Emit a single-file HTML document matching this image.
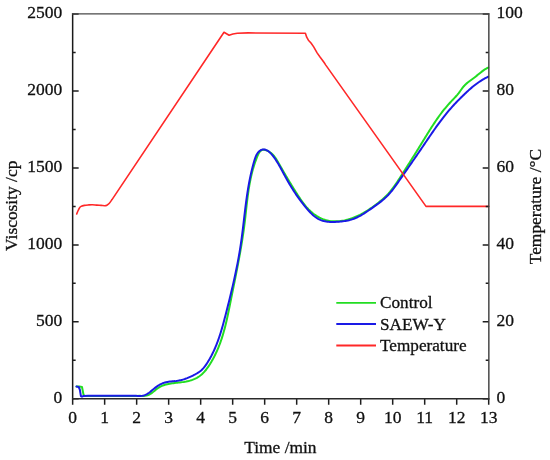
<!DOCTYPE html>
<html><head><meta charset="utf-8"><style>
html,body{margin:0;padding:0;background:#fff;width:550px;height:460px;overflow:hidden}
svg{display:block}
.t{font-family:"Liberation Serif",serif;font-size:17.5px;fill:#111;stroke:#111;stroke-width:0.3px}
.a{font-family:"Liberation Serif",serif;font-size:17.4px;fill:#111;stroke:#111;stroke-width:0.3px}
.l{font-family:"Liberation Serif",serif;font-size:17.2px;fill:#111;stroke:#111;stroke-width:0.3px}
</style></head><body>
<svg width="550" height="460" viewBox="0 0 550 460">
<rect width="550" height="460" fill="#fff"/>
<path d="M76.50 386.60 L79.50 386.60 L82.00 387.00 L83.50 394.60 L84.50 396.00 L88.00 395.90 L92.00 395.90 L96.00 395.90 L100.00 395.90 L104.00 395.90 L108.00 395.90 L112.00 395.90 L116.00 395.90 L120.00 395.90 L124.00 395.90 L128.00 395.90 L132.00 395.90 L136.00 395.90 L139.98 395.86 L141.30 395.96 L142.60 395.99 L143.87 395.95 L145.12 395.82 L146.34 395.60 L147.53 395.27 L148.68 394.82 L149.80 394.26 L150.88 393.60 L151.94 392.86 L152.98 392.07 L154.02 391.24 L155.04 390.40 L156.07 389.56 L157.11 388.76 L158.16 388.00 L159.23 387.31 L160.33 386.69 L161.44 386.13 L162.58 385.64 L163.73 385.20 L164.90 384.82 L166.09 384.48 L167.29 384.18 L168.51 383.92 L169.73 383.69 L170.97 383.49 L172.22 383.31 L173.47 383.15 L174.74 383.01 L176.01 382.87 L177.28 382.73 L178.56 382.60 L179.84 382.46 L181.12 382.30 L182.40 382.13 L183.67 381.95 L184.95 381.73 L186.22 381.50 L187.47 381.23 L188.72 380.94 L189.96 380.61 L191.17 380.24 L192.37 379.84 L193.55 379.40 L194.70 378.91 L195.83 378.38 L196.93 377.81 L198.00 377.18 L199.04 376.50 L200.04 375.77 L201.01 374.99 L201.95 374.17 L202.87 373.30 L203.75 372.40 L204.61 371.47 L205.44 370.50 L206.25 369.50 L207.03 368.48 L207.79 367.44 L208.53 366.37 L209.25 365.29 L209.95 364.20 L210.63 363.09 L211.29 361.98 L211.94 360.86 L212.57 359.74 L213.19 358.61 L213.79 357.48 L214.38 356.35 L214.95 355.21 L215.51 354.06 L216.05 352.91 L216.58 351.76 L217.10 350.60 L217.61 349.44 L218.10 348.28 L218.58 347.11 L219.05 345.93 L219.50 344.76 L219.95 343.58 L220.38 342.39 L220.80 341.20 L221.21 340.01 L221.61 338.81 L222.00 337.61 L222.38 336.41 L222.75 335.20 L223.12 333.99 L223.47 332.78 L223.82 331.56 L224.15 330.35 L224.48 329.13 L224.81 327.90 L225.12 326.67 L225.43 325.45 L225.73 324.22 L226.03 322.98 L226.32 321.75 L226.61 320.51 L226.89 319.27 L227.17 318.03 L227.44 316.79 L227.71 315.55 L227.97 314.30 L228.23 313.06 L228.49 311.81 L228.75 310.57 L229.00 309.32 L229.26 308.07 L229.51 306.82 L229.76 305.57 L230.01 304.33 L230.26 303.08 L230.51 301.83 L230.76 300.58 L231.01 299.33 L231.26 298.08 L231.51 296.84 L231.76 295.59 L232.01 294.34 L232.26 293.09 L232.51 291.85 L232.77 290.60 L233.02 289.35 L233.27 288.11 L233.52 286.86 L233.77 285.61 L234.03 284.37 L234.28 283.12 L234.53 281.87 L234.78 280.63 L235.03 279.38 L235.28 278.14 L235.52 276.89 L235.77 275.64 L236.02 274.40 L236.26 273.15 L236.51 271.90 L236.75 270.66 L237.00 269.41 L237.24 268.17 L237.48 266.92 L237.72 265.67 L237.96 264.42 L238.19 263.18 L238.43 261.93 L238.66 260.68 L238.89 259.43 L239.12 258.19 L239.35 256.94 L239.58 255.69 L239.80 254.44 L240.03 253.19 L240.25 251.94 L240.47 250.69 L240.68 249.44 L240.90 248.19 L241.11 246.94 L241.32 245.69 L241.53 244.44 L241.73 243.18 L241.94 241.93 L242.14 240.68 L242.33 239.42 L242.53 238.17 L242.72 236.91 L242.91 235.66 L243.10 234.40 L243.28 233.15 L243.46 231.89 L243.64 230.63 L243.81 229.37 L243.98 228.11 L244.15 226.86 L244.31 225.59 L244.47 224.33 L244.63 223.07 L244.78 221.81 L244.93 220.55 L245.08 219.28 L245.22 218.02 L245.37 216.76 L245.51 215.49 L245.65 214.23 L245.79 212.96 L245.93 211.70 L246.06 210.43 L246.20 209.16 L246.34 207.90 L246.48 206.63 L246.62 205.37 L246.77 204.10 L246.91 202.84 L247.06 201.58 L247.21 200.31 L247.37 199.05 L247.52 197.79 L247.68 196.53 L247.85 195.26 L248.02 194.00 L248.19 192.75 L248.38 191.49 L248.56 190.23 L248.75 188.97 L248.95 187.72 L249.16 186.47 L249.37 185.21 L249.59 183.96 L249.82 182.71 L250.06 181.46 L250.30 180.22 L250.56 178.97 L250.82 177.73 L251.10 176.49 L251.38 175.25 L251.68 174.01 L251.98 172.78 L252.30 171.54 L252.63 170.31 L252.97 169.08 L253.32 167.86 L253.69 166.63 L254.07 165.41 L254.46 164.19 L254.87 162.97 L255.29 161.76 L255.73 160.55 L256.18 159.34 L256.65 158.13 L257.13 156.93 L257.63 155.73 L258.15 154.54 L258.70 153.40 L259.32 152.35 L260.02 151.43 L260.81 150.68 L261.72 150.14 L262.77 149.85 L263.94 149.81 L265.18 149.99 L266.43 150.35 L267.66 150.86 L268.85 151.49 L269.98 152.23 L271.07 153.07 L272.10 153.98 L273.06 154.96 L273.96 155.97 L274.79 157.01 L275.55 158.07 L276.25 159.13 L276.90 160.20 L277.53 161.28 L278.16 162.36 L278.78 163.44 L279.40 164.52 L280.02 165.61 L280.65 166.69 L281.27 167.78 L281.90 168.87 L282.53 169.95 L283.16 171.04 L283.79 172.13 L284.43 173.22 L285.06 174.31 L285.70 175.41 L286.34 176.50 L286.99 177.59 L287.63 178.68 L288.28 179.77 L288.93 180.86 L289.58 181.95 L290.24 183.04 L290.90 184.13 L291.56 185.22 L292.23 186.31 L292.90 187.39 L293.57 188.48 L294.24 189.56 L294.92 190.64 L295.61 191.72 L296.29 192.80 L296.98 193.88 L297.68 194.95 L298.38 196.02 L299.08 197.09 L299.79 198.16 L300.51 199.22 L301.24 200.27 L301.97 201.31 L302.72 202.34 L303.48 203.37 L304.26 204.38 L305.05 205.37 L305.86 206.35 L306.69 207.31 L307.54 208.25 L308.41 209.18 L309.30 210.08 L310.22 210.95 L311.16 211.81 L312.13 212.63 L313.12 213.43 L314.13 214.20 L315.16 214.94 L316.22 215.65 L317.29 216.32 L318.39 216.95 L319.50 217.55 L320.62 218.11 L321.77 218.63 L322.93 219.10 L324.10 219.53 L325.29 219.92 L326.49 220.25 L327.71 220.54 L328.93 220.78 L330.16 220.98 L331.41 221.13 L332.66 221.23 L333.91 221.29 L335.17 221.31 L336.44 221.29 L337.71 221.23 L338.98 221.13 L340.25 221.00 L341.52 220.83 L342.79 220.63 L344.06 220.39 L345.33 220.12 L346.59 219.82 L347.85 219.49 L349.10 219.13 L350.34 218.75 L351.57 218.34 L352.80 217.90 L354.01 217.44 L355.21 216.96 L356.40 216.46 L357.58 215.94 L358.74 215.40 L359.88 214.85 L361.01 214.27 L362.12 213.68 L363.22 213.08 L364.31 212.46 L365.38 211.83 L366.45 211.18 L367.50 210.51 L368.55 209.84 L369.59 209.15 L370.62 208.45 L371.64 207.74 L372.66 207.01 L373.68 206.28 L374.70 205.53 L375.71 204.77 L376.72 204.01 L377.73 203.23 L378.74 202.45 L379.74 201.65 L380.74 200.84 L381.72 200.01 L382.70 199.18 L383.66 198.33 L384.60 197.46 L385.53 196.58 L386.44 195.68 L387.33 194.77 L388.20 193.84 L389.05 192.89 L389.88 191.93 L390.69 190.95 L391.48 189.97 L392.26 188.97 L393.02 187.95 L393.78 186.93 L394.52 185.90 L395.24 184.86 L395.96 183.82 L396.67 182.76 L397.38 181.71 L398.08 180.64 L398.77 179.58 L399.46 178.51 L400.14 177.44 L400.83 176.37 L401.51 175.29 L402.19 174.22 L402.88 173.15 L403.56 172.08 L404.24 171.01 L404.93 169.94 L405.61 168.87 L406.29 167.80 L406.97 166.73 L407.65 165.66 L408.33 164.58 L409.01 163.51 L409.69 162.44 L410.37 161.37 L411.05 160.30 L411.72 159.22 L412.40 158.15 L413.08 157.08 L413.75 156.00 L414.43 154.93 L415.10 153.85 L415.77 152.77 L416.45 151.70 L417.12 150.62 L417.79 149.54 L418.46 148.46 L419.13 147.38 L419.80 146.30 L420.46 145.22 L421.13 144.13 L421.80 143.05 L422.46 141.97 L423.12 140.88 L423.79 139.79 L424.45 138.71 L425.12 137.62 L425.78 136.54 L426.45 135.45 L427.12 134.37 L427.79 133.28 L428.46 132.20 L429.14 131.12 L429.81 130.04 L430.49 128.97 L431.17 127.89 L431.86 126.82 L432.55 125.75 L433.25 124.69 L433.94 123.63 L434.65 122.57 L435.36 121.51 L436.07 120.46 L436.79 119.41 L437.51 118.37 L438.25 117.34 L438.98 116.30 L439.73 115.28 L440.48 114.26 L441.24 113.24 L442.01 112.23 L442.78 111.23 L443.56 110.23 L444.36 109.24 L445.16 108.26 L445.97 107.28 L446.79 106.31 L447.62 105.35 L448.46 104.40 L449.31 103.46 L450.17 102.52 L451.04 101.59 L451.91 100.67 L452.79 99.75 L453.67 98.82 L454.54 97.89 L455.40 96.96 L456.25 96.01 L457.09 95.05 L457.90 94.08 L458.70 93.08 L459.46 92.06 L460.22 91.03 L460.96 90.00 L461.71 88.97 L462.47 87.96 L463.25 86.96 L464.06 86.00 L464.91 85.08 L465.81 84.20 L466.74 83.37 L467.72 82.56 L468.72 81.78 L469.74 81.02 L470.77 80.27 L471.80 79.52 L472.83 78.77 L473.85 78.01 L474.85 77.23 L475.85 76.44 L476.84 75.64 L477.82 74.84 L478.81 74.03 L479.79 73.22 L480.78 72.42 L481.78 71.64 L482.79 70.88 L483.82 70.14 L484.87 69.44 L485.95 68.77 L487.05 68.14 L488.18 67.56" fill="none" stroke="#22dd22" stroke-width="2" stroke-linejoin="round" stroke-linecap="round"/>
<path d="M76.50 386.60 L78.70 387.00 L79.80 389.50 L80.90 396.10 L82.00 396.70 L83.80 395.90 L88.00 395.80 L92.00 395.80 L96.00 395.80 L100.00 395.80 L104.00 395.80 L108.00 395.80 L112.00 395.80 L116.00 395.80 L120.00 395.80 L124.00 395.80 L128.00 395.80 L132.00 395.80 L135.96 395.74 L137.26 395.88 L138.55 395.96 L139.85 395.96 L141.12 395.88 L142.38 395.71 L143.60 395.45 L144.78 395.08 L145.91 394.61 L147.00 394.05 L148.05 393.41 L149.08 392.70 L150.08 391.94 L151.07 391.15 L152.06 390.33 L153.04 389.50 L154.03 388.68 L155.04 387.88 L156.06 387.10 L157.10 386.35 L158.15 385.65 L159.23 384.98 L160.32 384.36 L161.44 383.80 L162.58 383.29 L163.74 382.84 L164.92 382.46 L166.13 382.16 L167.35 381.91 L168.60 381.72 L169.85 381.57 L171.12 381.45 L172.39 381.34 L173.67 381.23 L174.94 381.12 L176.21 380.98 L177.47 380.81 L178.72 380.60 L179.96 380.35 L181.18 380.06 L182.40 379.73 L183.61 379.37 L184.80 378.98 L185.99 378.56 L187.17 378.11 L188.34 377.63 L189.50 377.14 L190.66 376.62 L191.81 376.08 L192.95 375.53 L194.08 374.96 L195.21 374.37 L196.31 373.75 L197.40 373.11 L198.46 372.43 L199.49 371.72 L200.49 370.96 L201.44 370.15 L202.35 369.29 L203.22 368.37 L204.04 367.41 L204.83 366.41 L205.58 365.37 L206.31 364.31 L207.02 363.24 L207.71 362.17 L208.38 361.08 L209.03 359.99 L209.67 358.89 L210.29 357.79 L210.90 356.68 L211.50 355.57 L212.07 354.44 L212.64 353.32 L213.19 352.18 L213.72 351.05 L214.25 349.90 L214.76 348.75 L215.26 347.60 L215.74 346.44 L216.22 345.28 L216.68 344.11 L217.14 342.94 L217.58 341.76 L218.02 340.58 L218.44 339.40 L218.85 338.21 L219.26 337.02 L219.66 335.83 L220.05 334.63 L220.43 333.43 L220.81 332.23 L221.17 331.02 L221.54 329.81 L221.89 328.60 L222.24 327.39 L222.59 326.17 L222.93 324.96 L223.26 323.74 L223.60 322.52 L223.92 321.30 L224.25 320.07 L224.57 318.85 L224.89 317.62 L225.21 316.40 L225.52 315.17 L225.84 313.94 L226.15 312.71 L226.47 311.48 L226.78 310.25 L227.09 309.03 L227.40 307.80 L227.71 306.57 L228.02 305.34 L228.33 304.11 L228.63 302.88 L228.94 301.65 L229.24 300.42 L229.55 299.18 L229.85 297.95 L230.15 296.72 L230.45 295.49 L230.74 294.26 L231.04 293.02 L231.33 291.79 L231.63 290.56 L231.92 289.32 L232.21 288.09 L232.50 286.86 L232.78 285.62 L233.06 284.39 L233.35 283.15 L233.63 281.92 L233.90 280.68 L234.18 279.45 L234.45 278.21 L234.72 276.97 L234.99 275.74 L235.26 274.50 L235.52 273.26 L235.78 272.02 L236.04 270.78 L236.29 269.55 L236.55 268.31 L236.80 267.07 L237.04 265.83 L237.29 264.59 L237.53 263.35 L237.77 262.11 L238.00 260.87 L238.24 259.62 L238.46 258.38 L238.69 257.14 L238.91 255.90 L239.13 254.66 L239.35 253.41 L239.56 252.17 L239.77 250.93 L239.97 249.68 L240.17 248.44 L240.37 247.19 L240.56 245.95 L240.75 244.70 L240.94 243.45 L241.12 242.21 L241.30 240.96 L241.47 239.71 L241.65 238.47 L241.81 237.22 L241.98 235.97 L242.14 234.72 L242.30 233.47 L242.46 232.23 L242.62 230.98 L242.77 229.73 L242.92 228.48 L243.08 227.23 L243.23 225.98 L243.37 224.73 L243.52 223.48 L243.67 222.23 L243.82 220.97 L243.96 219.72 L244.11 218.47 L244.26 217.22 L244.40 215.97 L244.55 214.72 L244.70 213.47 L244.85 212.21 L245.00 210.96 L245.15 209.71 L245.30 208.46 L245.46 207.21 L245.61 205.95 L245.77 204.70 L245.93 203.45 L246.10 202.20 L246.26 200.94 L246.43 199.69 L246.61 198.44 L246.78 197.19 L246.96 195.93 L247.15 194.68 L247.33 193.43 L247.52 192.18 L247.72 190.93 L247.92 189.67 L248.12 188.42 L248.33 187.17 L248.55 185.92 L248.77 184.67 L249.00 183.42 L249.23 182.17 L249.47 180.92 L249.71 179.66 L249.96 178.41 L250.22 177.16 L250.48 175.91 L250.75 174.66 L251.03 173.41 L251.31 172.17 L251.61 170.92 L251.91 169.67 L252.21 168.42 L252.53 167.17 L252.85 165.92 L253.19 164.68 L253.53 163.43 L253.88 162.18 L254.24 160.94 L254.62 159.70 L255.02 158.47 L255.45 157.28 L255.92 156.12 L256.45 155.01 L257.04 153.95 L257.70 152.97 L258.44 152.06 L259.27 151.24 L260.19 150.53 L261.19 149.97 L262.26 149.61 L263.39 149.47 L264.55 149.55 L265.72 149.84 L266.87 150.32 L267.98 150.97 L269.05 151.76 L270.06 152.65 L271.01 153.60 L271.90 154.59 L272.73 155.61 L273.52 156.64 L274.28 157.69 L275.02 158.74 L275.73 159.80 L276.43 160.86 L277.10 161.93 L277.76 163.00 L278.41 164.07 L279.04 165.15 L279.66 166.24 L280.27 167.33 L280.87 168.42 L281.46 169.51 L282.05 170.61 L282.64 171.71 L283.23 172.81 L283.82 173.92 L284.42 175.02 L285.01 176.13 L285.62 177.24 L286.23 178.35 L286.85 179.46 L287.48 180.57 L288.11 181.68 L288.76 182.79 L289.41 183.89 L290.06 184.99 L290.72 186.08 L291.39 187.17 L292.06 188.26 L292.73 189.33 L293.41 190.40 L294.09 191.46 L294.78 192.51 L295.47 193.56 L296.17 194.59 L296.87 195.62 L297.58 196.65 L298.30 197.67 L299.03 198.68 L299.76 199.69 L300.50 200.70 L301.25 201.70 L302.01 202.70 L302.79 203.69 L303.57 204.69 L304.36 205.68 L305.17 206.66 L305.99 207.65 L306.82 208.63 L307.66 209.61 L308.52 210.58 L309.40 211.54 L310.29 212.48 L311.20 213.40 L312.13 214.29 L313.08 215.14 L314.05 215.97 L315.04 216.75 L316.05 217.49 L317.08 218.18 L318.14 218.82 L319.23 219.40 L320.34 219.92 L321.47 220.38 L322.63 220.76 L323.82 221.09 L325.03 221.36 L326.25 221.57 L327.49 221.74 L328.75 221.86 L330.02 221.94 L331.30 221.98 L332.58 221.99 L333.87 221.97 L335.17 221.93 L336.46 221.86 L337.75 221.78 L339.04 221.68 L340.32 221.57 L341.60 221.44 L342.87 221.29 L344.13 221.12 L345.38 220.92 L346.63 220.70 L347.86 220.45 L349.09 220.17 L350.30 219.86 L351.50 219.52 L352.69 219.14 L353.87 218.73 L355.03 218.27 L356.17 217.79 L357.31 217.26 L358.43 216.71 L359.54 216.13 L360.64 215.53 L361.73 214.90 L362.81 214.25 L363.88 213.58 L364.95 212.89 L366.01 212.19 L367.07 211.48 L368.12 210.77 L369.17 210.04 L370.22 209.32 L371.26 208.59 L372.31 207.86 L373.35 207.13 L374.38 206.40 L375.42 205.67 L376.45 204.93 L377.47 204.18 L378.48 203.43 L379.49 202.67 L380.48 201.90 L381.47 201.12 L382.44 200.32 L383.40 199.51 L384.34 198.69 L385.27 197.85 L386.19 196.99 L387.08 196.11 L387.97 195.22 L388.83 194.31 L389.68 193.38 L390.51 192.44 L391.32 191.48 L392.11 190.50 L392.89 189.50 L393.65 188.50 L394.40 187.48 L395.14 186.46 L395.88 185.42 L396.60 184.39 L397.33 183.35 L398.05 182.31 L398.78 181.27 L399.50 180.23 L400.22 179.19 L400.95 178.15 L401.67 177.11 L402.39 176.07 L403.11 175.04 L403.83 174.00 L404.56 172.96 L405.28 171.92 L406.00 170.89 L406.72 169.85 L407.44 168.81 L408.16 167.77 L408.88 166.74 L409.60 165.70 L410.32 164.66 L411.04 163.63 L411.75 162.59 L412.47 161.55 L413.19 160.51 L413.91 159.48 L414.62 158.44 L415.34 157.40 L416.05 156.36 L416.77 155.32 L417.48 154.28 L418.20 153.24 L418.91 152.20 L419.62 151.16 L420.34 150.12 L421.05 149.07 L421.76 148.03 L422.47 146.99 L423.18 145.94 L423.89 144.90 L424.60 143.85 L425.31 142.81 L426.02 141.76 L426.73 140.71 L427.44 139.67 L428.15 138.62 L428.86 137.58 L429.57 136.53 L430.29 135.49 L431.00 134.44 L431.72 133.40 L432.44 132.36 L433.16 131.32 L433.88 130.29 L434.61 129.25 L435.34 128.22 L436.07 127.19 L436.81 126.16 L437.54 125.13 L438.29 124.11 L439.03 123.09 L439.78 122.08 L440.54 121.06 L441.30 120.05 L442.06 119.05 L442.83 118.05 L443.60 117.05 L444.38 116.06 L445.17 115.07 L445.96 114.09 L446.75 113.11 L447.56 112.13 L448.37 111.17 L449.18 110.20 L450.01 109.25 L450.84 108.30 L451.67 107.35 L452.52 106.41 L453.37 105.48 L454.23 104.55 L455.09 103.63 L455.96 102.71 L456.83 101.80 L457.71 100.89 L458.60 99.99 L459.48 99.09 L460.38 98.20 L461.27 97.31 L462.17 96.43 L463.08 95.55 L463.98 94.68 L464.89 93.80 L465.80 92.94 L466.72 92.07 L467.64 91.22 L468.56 90.37 L469.49 89.53 L470.43 88.69 L471.38 87.87 L472.34 87.06 L473.31 86.25 L474.29 85.47 L475.29 84.69 L476.30 83.93 L477.33 83.19 L478.37 82.46 L479.42 81.75 L480.48 81.05 L481.56 80.38 L482.64 79.72 L483.72 79.08 L484.82 78.47 L485.91 77.87 L487.02 77.30 L488.12 76.75" fill="none" stroke="#1a1ae6" stroke-width="2" stroke-linejoin="round" stroke-linecap="round"/>
<path d="M76.70 214.00 C76.88 213.55 77.37 212.27 77.80 211.30 C78.23 210.33 78.75 209.02 79.30 208.20 C79.85 207.38 80.25 206.87 81.10 206.40 C81.95 205.93 83.13 205.65 84.40 205.40 C85.67 205.15 87.37 205.02 88.70 204.90 C90.03 204.78 91.07 204.67 92.40 204.70 C93.73 204.73 95.25 204.98 96.70 205.10 C98.15 205.22 99.77 205.30 101.10 205.40 C102.43 205.50 103.73 205.73 104.70 205.70 C105.67 205.67 106.17 205.57 106.90 205.20 C107.63 204.83 108.25 204.43 109.10 203.50 C109.95 202.57 111.52 200.25 112.00 199.60 L224.0 32.3 L229.1 35.3 L232.9 34.0 L237.3 33.3 L248.2 32.9 L305.4 33.3 L306.7 37.2 L308.4 40.2 L311.0 43.0 L313.7 46.9 L317.1 52.9 L320.2 57.3 L321.9 59.5 L324.1 62.5 L325.8 65.1 L426.0 206.4 L488.8 206.4" fill="none" stroke="#ff2828" stroke-width="1.6" stroke-linejoin="round" stroke-linecap="round"/>
<path d="M72.65 398.80 V404.80 M104.65 398.80 V404.80 M136.66 398.80 V404.80 M168.66 398.80 V404.80 M200.67 398.80 V404.80 M232.67 398.80 V404.80 M264.67 398.80 V404.80 M296.68 398.80 V404.80 M328.68 398.80 V404.80 M360.68 398.80 V404.80 M392.69 398.80 V404.80 M424.69 398.80 V404.80 M456.70 398.80 V404.80 M488.70 398.80 V404.80 M72.65 398.80 H78.65 M72.65 360.32 H75.65 M72.65 321.84 H78.65 M72.65 283.36 H75.65 M72.65 244.88 H78.65 M72.65 206.40 H75.65 M72.65 167.92 H78.65 M72.65 129.44 H75.65 M72.65 90.96 H78.65 M72.65 52.48 H75.65 M72.65 14.00 H78.65 M488.70 398.80 H482.70 M488.70 360.32 H485.70 M488.70 321.84 H482.70 M488.70 283.36 H485.70 M488.70 244.88 H482.70 M488.70 206.40 H485.70 M488.70 167.92 H482.70 M488.70 129.44 H485.70 M488.70 90.96 H482.70 M488.70 52.48 H485.70 M488.70 14.00 H482.70" stroke="#1e1e1e" stroke-width="1.5" fill="none"/>
<path d="M72.65 13.3 V399.5" stroke="#1a1a1a" stroke-width="1.5"/>
<path d="M71.95 398.85 H489.4" stroke="#2a2a2a" stroke-width="1.5"/>
<path d="M488.84999999999997 13.3 V399.5" stroke="#3a3a3a" stroke-width="1.4"/>
<path d="M71.95 13.9 H489.4" stroke="#484848" stroke-width="1.35"/>
<text transform="translate(62.2 403.00) scale(1 1.0)" text-anchor="end" class="t">0</text>
<text transform="translate(62.2 326.04) scale(1 1.0)" text-anchor="end" class="t">500</text>
<text transform="translate(62.2 249.08) scale(1 1.0)" text-anchor="end" class="t">1000</text>
<text transform="translate(62.2 172.12) scale(1 1.0)" text-anchor="end" class="t">1500</text>
<text transform="translate(62.2 95.16) scale(1 1.0)" text-anchor="end" class="t">2000</text>
<text transform="translate(62.2 18.20) scale(1 1.0)" text-anchor="end" class="t">2500</text>
<text transform="translate(496.5 403.10) scale(1 1.0)" class="t">0</text>
<text transform="translate(496.5 326.14) scale(1 1.0)" class="t">20</text>
<text transform="translate(496.5 249.18) scale(1 1.0)" class="t">40</text>
<text transform="translate(496.5 172.22) scale(1 1.0)" class="t">60</text>
<text transform="translate(496.5 95.26) scale(1 1.0)" class="t">80</text>
<text transform="translate(496.5 18.30) scale(1 1.0)" class="t">100</text>
<text transform="translate(72.65 423.2) scale(1 1.0)" text-anchor="middle" class="t">0</text>
<text transform="translate(104.65 423.2) scale(1 1.0)" text-anchor="middle" class="t">1</text>
<text transform="translate(136.66 423.2) scale(1 1.0)" text-anchor="middle" class="t">2</text>
<text transform="translate(168.66 423.2) scale(1 1.0)" text-anchor="middle" class="t">3</text>
<text transform="translate(200.67 423.2) scale(1 1.0)" text-anchor="middle" class="t">4</text>
<text transform="translate(232.67 423.2) scale(1 1.0)" text-anchor="middle" class="t">5</text>
<text transform="translate(264.67 423.2) scale(1 1.0)" text-anchor="middle" class="t">6</text>
<text transform="translate(296.68 423.2) scale(1 1.0)" text-anchor="middle" class="t">7</text>
<text transform="translate(328.68 423.2) scale(1 1.0)" text-anchor="middle" class="t">8</text>
<text transform="translate(360.68 423.2) scale(1 1.0)" text-anchor="middle" class="t">9</text>
<text transform="translate(392.69 423.2) scale(1 1.0)" text-anchor="middle" class="t">10</text>
<text transform="translate(424.69 423.2) scale(1 1.0)" text-anchor="middle" class="t">11</text>
<text transform="translate(456.70 423.2) scale(1 1.0)" text-anchor="middle" class="t">12</text>
<text transform="translate(488.70 423.2) scale(1 1.0)" text-anchor="middle" class="t">13</text>
<path d="M336.3 302.8 H376" stroke="#22dd22" stroke-width="1.8"/>
<path d="M336.3 324.0 H376" stroke="#1a1ae6" stroke-width="1.8"/>
<path d="M336.3 345.5 H376" stroke="#ff2828" stroke-width="1.8"/>
<text transform="translate(380 308.2) scale(1 1.0)" class="l">Control</text>
<text transform="translate(380 329.6) scale(1 1.0)" class="l">SAEW-Y</text>
<text transform="translate(380 350.9) scale(1 1.0)" class="l">Temperature</text>
<text transform="translate(280.4 452.7) scale(1 1.0)" text-anchor="middle" class="a">Time /min</text>
<text transform="translate(17.2 205.8) rotate(-90)" text-anchor="middle" class="a">Viscosity /cp</text>
<text transform="translate(541 206.6) rotate(-90)" text-anchor="middle" class="a">Temperature /°C</text>
</svg>
</body></html>
